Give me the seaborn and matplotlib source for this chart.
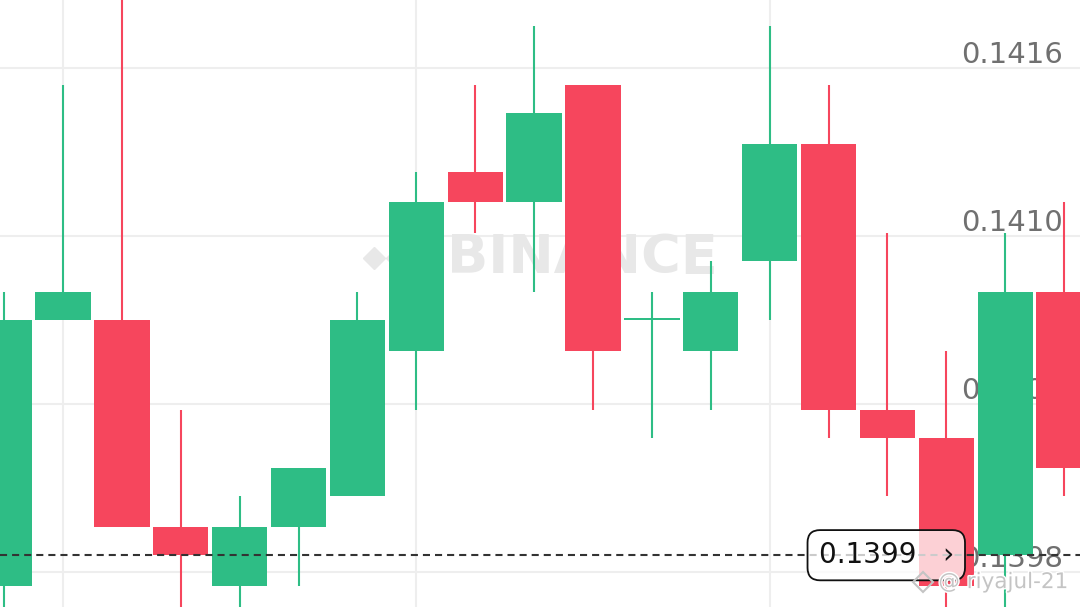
import numpy as np
import pandas as pd
import matplotlib.pyplot as plt
import seaborn as sns
import matplotlib.patheffects as pe
from matplotlib.transforms import blended_transform_factory

# candle data
opens  = [0.13975, 0.14070, 0.14070, 0.13996, 0.13975, 0.13996, 0.14007, 0.14059, 0.14123, 0.14112,
          0.14154, 0.14070, 0.14059, 0.14091, 0.14133, 0.14038, 0.14028, 0.13986, 0.14080]
closes = [0.14070, 0.14080, 0.13996, 0.13986, 0.13996, 0.14017, 0.14070, 0.14112, 0.14112, 0.14144,
          0.14059, 0.14070, 0.14080, 0.14133, 0.14038, 0.14028, 0.13975, 0.14080, 0.14017]
highs  = [0.14080, 0.14154, 0.14190, 0.14038, 0.14007, 0.14017, 0.14080, 0.14123, 0.14154, 0.14175,
          0.14154, 0.14080, 0.14091, 0.14175, 0.14154, 0.14101, 0.14059, 0.14101, 0.14112]
lows   = [0.13960, 0.14070, 0.13996, 0.13960, 0.13960, 0.13975, 0.14007, 0.14038, 0.14101, 0.14080,
          0.14038, 0.14028, 0.14038, 0.14070, 0.14028, 0.14007, 0.13960, 0.13960, 0.14007]
# doji candle counts as green
is_up  = [True, True, False, False, True, True, True, True, False, True,
          False, True, True, True, False, False, False, True, False]

price_ticks = [0.1398, 0.1404, 0.1410, 0.1416]
price_labels = ["0.1398", "0.1404", "0.1410", "0.1416"]
time_ticks = [1, 7, 13]
current_price = 0.13986
current_label = "0.1399"

df = pd.DataFrame({"open": opens, "close": closes, "high": highs, "low": lows, "up": is_up})
df["x"] = np.arange(len(df))

GREEN = "#2ebd85"
RED = "#f6465d"
colors = [GREEN if u else RED for u in df["up"]]

sns.set_theme(style="white")
plt.rcParams['font.family'] = ['DejaVu Sans']

fig = plt.figure(figsize=(10.8, 6.07), dpi=100)
ax = fig.add_axes([0, 0, 1, 1])

# wicks + bodies
ax.vlines(df["x"], df["low"], df["high"], colors=colors, linewidth=1.5, zorder=3)
body_bottom = df[["open", "close"]].min(axis=1)
body_height = (df["close"] - df["open"]).abs().clip(lower=0.000006)
ax.bar(df["x"], body_height, bottom=body_bottom, width=0.94, color=colors,
       linewidth=0, zorder=4)

ax.set_xlim(-0.07, 18.27)
ax.set_ylim(0.139675, 0.141843)

# grid
ax.set_yticks(price_ticks)
ax.set_xticks(time_ticks)
ax.set_xticklabels([])
ax.set_yticklabels([])
ax.tick_params(length=0)
ax.grid(True, color="#eeeeee", linewidth=1.5, zorder=0)
ax.set_axisbelow(True)
sns.despine(ax=ax, left=True, bottom=True, right=True, top=True)

# price labels inside the plot, right side (candles cover them)
trans = blended_transform_factory(ax.transAxes, ax.transData)
for val, lab in zip(price_ticks, price_labels):
    ax.annotate(lab, xy=(0.984, val), xycoords=trans, xytext=(0, 3.8),
                textcoords="offset points", ha="right", va="baseline",
                fontsize=21, color="#707070", zorder=1)

# watermark
ax.text(0.539, 0.575, "BINANCE", transform=ax.transAxes, ha="center", va="center",
        fontsize=39, fontweight="bold", color="#e8e8e8", zorder=1)
for dx, dy, s in [(0, 0, 16), (-0.026, 0, 11), (0.026, 0, 11), (0, 0.046, 11), (0, -0.046, 11)]:
    ax.plot(0.372 + dx, 0.575 + dy, marker="D", markersize=s, color="#e8e8e8",
            transform=ax.transAxes, zorder=1)

# current price line and tag
ax.axhline(current_price, color="#333333", linewidth=1.5, linestyle=(0, (3.4, 2.4)), zorder=6)
ax.text(0.758, current_price, current_label + "   \u203a", transform=trans,
        ha="left", va="center", fontsize=20, color="#111111", zorder=7,
        bbox=dict(boxstyle="round,pad=0.4,rounding_size=0.45", fc=(1, 1, 1, 0.75),
                  ec="#111111", lw=1.3))

# bottom-right watermark
outline = [pe.withStroke(linewidth=2, foreground="white")]
ax.text(0.989, 0.041, "@ riyajul-21", transform=ax.transAxes, ha="right",
        va="center", fontsize=15.5, color="#c4c4c4", zorder=8, path_effects=outline)
ax.plot(0.855, 0.041, marker="D", markersize=10, markerfacecolor="none",
        markeredgecolor="#c4c4c4", markeredgewidth=1.5, transform=ax.transAxes, zorder=8)

fig.savefig("out.png", dpi=100)
